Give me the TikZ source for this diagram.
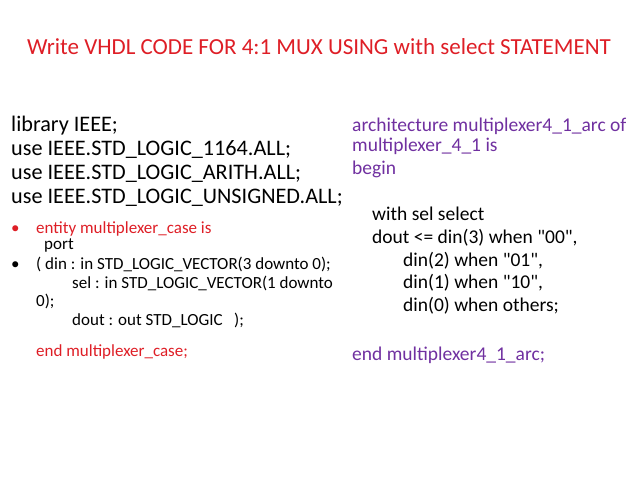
\documentclass[tikz,border=0pt]{standalone}
\usepackage{fontspec}
\setmainfont{Carlito}[Ligatures=TeXOff]
\usetikzlibrary{positioning}
\definecolor{titleRed}{RGB}{222,30,38}
\definecolor{archPurple}{RGB}{112,48,160}
\tikzset{
  code/.style={anchor=base west, inner sep=0pt, font=\fontsize{22.2}{26}\selectfont},
  small/.style={anchor=base west, inner sep=0pt, font=\fontsize{17}{20}\selectfont},
  right code/.style={anchor=base west, inner sep=0pt, font=\fontsize{19.5}{22}\selectfont}
}
\begin{document}
\begin{tikzpicture}[x=1pt, y=-1pt]
    \useasboundingbox (0,0) rectangle (638,478);
    \node[inner sep=0pt, text=titleRed, font=\fontsize{23}{26}\selectfont] (title) at (319,47) {Write VHDL CODE FOR 4:1 MUX USING with select STATEMENT};

    % left column
    \node[code] (lib) at (11,132) {library IEEE;};
    \node[code] (use1) at (11,156) {use IEEE.STD\_LOGIC\_1164.ALL;};
    \node[code] (use2) at (11,180) {use IEEE.STD\_LOGIC\_ARITH.ALL;};
    \node[code] (use3) at (11,204) {use IEEE.STD\_LOGIC\_UNSIGNED.ALL;};
    \node[small, text=titleRed] (bul1) at (11,234) {\textbullet};
    \node[small, text=titleRed] (ent) at (36,234) {entity multiplexer\_case is};
    \node[small] (port) at (44,250) {port};
    \node[small] (bul2) at (11,270) {\textbullet};
    \node[small] (din) at (36,270) {( din : in STD\_LOGIC\_VECTOR(3 downto 0);};
    \node[small] (sel) at (72,289) {sel : in STD\_LOGIC\_VECTOR(1 downto};
    \node[small] (zero) at (36,307) {0);};
    \node[small] (dout) at (72,326) {dout : out STD\_LOGIC\ \ \ );};
    \node[small, text=titleRed] (endent) at (36,357) {end multiplexer\_case;};

    % right column
    \node[right code, text=archPurple] (arch) at (352,132) {architecture multiplexer4\_1\_arc of};
    \node[right code, text=archPurple] (arch2) at (352,152) {multiplexer\_4\_1 is};
    \node[right code, text=archPurple] (begin) at (352,175) {begin};
    \node[right code] (with) at (372,221) {with sel select};
    \node[right code] (dout2) at (372,244) {dout <= din(3) when "00",};
    \node[right code] (w2) at (403,267) {din(2) when "01",};
    \node[right code] (w1) at (403,289) {din(1) when "10",};
    \node[right code] (w0) at (403,312) {din(0) when others;};
    \node[right code, text=archPurple] (endarch) at (352,361) {end multiplexer4\_1\_arc;};
\end{tikzpicture}
\end{document}
